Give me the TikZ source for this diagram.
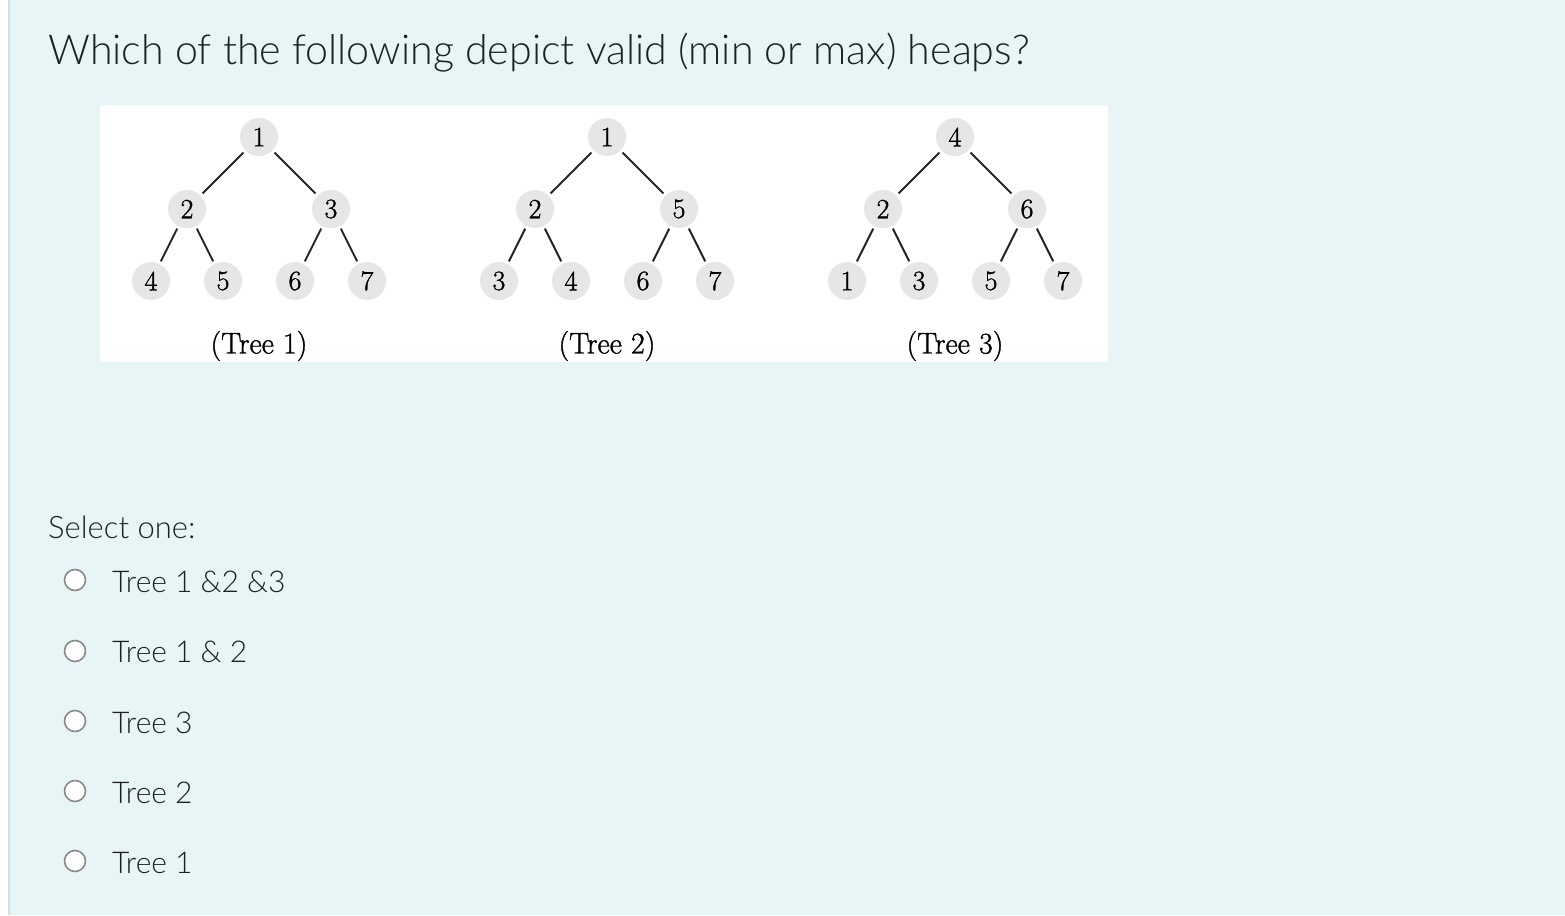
\documentclass[tikz,border=0pt]{standalone}
\usepackage{fontspec}
\setmainfont{Lato Light}
\newfontfamily\uifont{Lato Light}
\newfontfamily\lmfont[FakeBold=1.2]{Latin Modern Roman}
\definecolor{bgc}{HTML}{E7F5F7}
\definecolor{edgec}{HTML}{C4E4EC}
\definecolor{nodec}{HTML}{E6E6E6}
\definecolor{radioc}{HTML}{8A8A8A}
\definecolor{txt}{HTML}{1D2125}
\tikzset{
  hnode/.style={circle, fill=nodec, minimum size=38pt, inner sep=0pt, outer sep=3pt, font=\lmfont\fontsize{28}{28}\selectfont},
  hedge/.style={line width=2pt, draw=black!85},
  tlabel/.style={font=\lmfont\fontsize{30}{30}\selectfont},
  radio/.style={circle, draw=radioc, line width=1.6pt, fill=white, minimum size=21pt, inner sep=0pt},
  opt/.style={anchor=west, text=txt, font=\uifont\fontsize{30}{30}\selectfont, inner sep=0pt},
}
\begin{document}
\begin{tikzpicture}[x=1pt,y=-1pt]
\useasboundingbox (0,0) rectangle (1565,915);
\fill[white] (0,0) rectangle (1565,915);
\fill[bgc] (8,0) rectangle (1565,915);
\draw[edgec, line width=1.5pt] (8.75,0) -- (8.75,915);
\fill[white] (100,105) rectangle (1108,362);
\node[anchor=west, text=txt, font=\uifont\fontsize{41.2}{41.2}\selectfont, inner sep=0pt] (q) at (48,53) {Which of the following depict valid (min or max) heaps?};
% Tree 1
\node[hnode] (a1) at (259,137) {1};
\node[hnode] (a2) at (187,209) {2};
\node[hnode] (a3) at (331,209) {3};
\node[hnode] (a4) at (151,281) {4};
\node[hnode] (a5) at (223,281) {5};
\node[hnode] (a6) at (295,281) {6};
\node[hnode] (a7) at (367,281) {7};
\draw[hedge] (a1)--(a2) (a1)--(a3) (a2)--(a4) (a2)--(a5) (a3)--(a6) (a3)--(a7);
\node[tlabel] (la) at (259,346) {(Tree 1)};
% Tree 2
\node[hnode] (b1) at (607,137) {1};
\node[hnode] (b2) at (535,209) {2};
\node[hnode] (b3) at (679,209) {5};
\node[hnode] (b4) at (499,281) {3};
\node[hnode] (b5) at (571,281) {4};
\node[hnode] (b6) at (643,281) {6};
\node[hnode] (b7) at (715,281) {7};
\draw[hedge] (b1)--(b2) (b1)--(b3) (b2)--(b4) (b2)--(b5) (b3)--(b6) (b3)--(b7);
\node[tlabel] (lb) at (607,346) {(Tree 2)};
% Tree 3
\node[hnode] (c1) at (955,137) {4};
\node[hnode] (c2) at (883,209) {2};
\node[hnode] (c3) at (1027,209) {6};
\node[hnode] (c4) at (847,281) {1};
\node[hnode] (c5) at (919,281) {3};
\node[hnode] (c6) at (991,281) {5};
\node[hnode] (c7) at (1063,281) {7};
\draw[hedge] (c1)--(c2) (c1)--(c3) (c2)--(c4) (c2)--(c5) (c3)--(c6) (c3)--(c7);
\node[tlabel] (lc) at (955,346) {(Tree 3)};
% options
\node[opt, font=\uifont\fontsize{31}{31}\selectfont] (sel) at (48,527) {Select one:};
\node[radio] (r1) at (75,580) {};
\node[opt] (o1) at (112,582) {Tree 1 \&2 \&3};
\node[radio] (r2) at (75,651) {};
\node[opt] (o2) at (112,652) {Tree 1 \& 2};
\node[radio] (r3) at (75,721) {};
\node[opt] (o3) at (112,723) {Tree 3};
\node[radio] (r4) at (75,791) {};
\node[opt] (o4) at (112,793) {Tree 2};
\node[radio] (r5) at (75,861) {};
\node[opt] (o5) at (112,863) {Tree 1};
\end{tikzpicture}
\end{document}
